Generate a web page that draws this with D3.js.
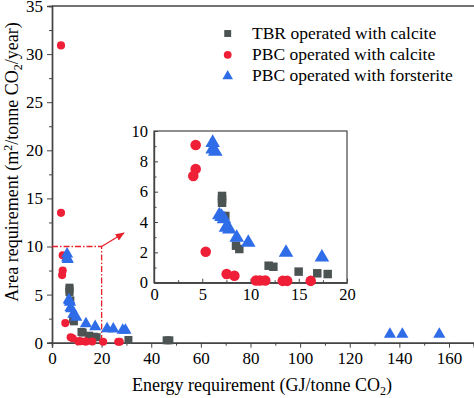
<!DOCTYPE html>
<html>
<head>
<meta charset="utf-8">
<script src="https://cdn.jsdelivr.net/npm/d3@7"></script>
<style>
body { margin: 0; background: #fff; }
</style>
</head>
<body>
<svg id="chart" width="474" height="398"></svg>
<script>
// TBR operated with calcite
var tbrCalcite = [[7.05,5.72],[7.05,5.5],[7.05,5.27],[7.39,4.4],[8.5,2.44],[8.84,2.22],[11.88,1.12],[12.37,1.05],[14.99,0.73],[16.92,0.62],[18.0,0.57],[30.8,0.28],[46.2,0.25],[47.3,0.25]];
// PBC operated with calcite
var pbcCalcite = [[3.63,30.9],[3.63,13.5],[4.32,9.08],[4.32,7.5],[4.07,7.03],[5.36,2.04],[7.53,0.57],[8.33,0.46],[10.57,0.15],[10.98,0.15],[11.53,0.15],[13.34,0.12],[13.8,0.12],[16.24,0.12],[20.6,0.1],[26.7,0.1],[27.3,0.1]];
// PBC operated with forsterite
var pbcForsterite = [[6.08,9.23],[6.08,8.8],[6.35,8.64],[6.77,4.46],[7.0,4.35],[7.25,4.2],[7.46,3.63],[7.8,3.52],[8.57,2.97],[9.77,2.64],[13.68,1.98],[17.4,1.67],[22.2,1.46],[24.7,1.42],[28.5,1.3],[29.6,1.3],[136.2,0.87],[141.2,0.87],[156.1,0.87]];

var seriesNames = ["TBR operated with calcite", "PBC operated with calcite", "PBC operated with forsterite"];
var xTicks = [0,20,40,60,80,100,120,140,160];
var yTicks = [0,5,10,15,20,25,30,35];
var insetXTicks = [0,5,10,15,20];
var insetYTicks = [0,2,4,6,8,10];

var colors = ["#4b5453", "#ee1f36", "#2f6ce8"];
var shapes = [d3.symbolSquare, d3.symbolCircle, d3.symbolTriangle];
var allSeries = [tbrCalcite, pbcCalcite, pbcForsterite];
var serif = "Liberation Serif";

var svg = d3.select("#chart");

var x = d3.scaleLinear().domain([0,170]).range([52, 473.8]);
var y = d3.scaleLinear().domain([0,35]).range([342.7, 6]);

function drawMarks(g, xs, ys, sizes, clip) {
	allSeries.forEach(function(data, i) {
		var pts = data;
		if (clip) {
			pts = data.filter(function(d){ return d[0] <= xs.domain()[1] && d[1] <= ys.domain()[1]; });
		}
		g.selectAll(".m"+i).data(pts).enter().append("path")
		.attr("class","m"+i)
		.attr("d", d3.symbol().type(shapes[i]).size(sizes[i]))
		.attr("fill", colors[i])
		.attr("transform", function(d){ return "translate("+xs(d[0])+","+ys(d[1])+")"; });
	});
}

// main axes
svg.append("g").attr("transform","translate(0,"+y(0)+")")
	.call(d3.axisBottom(x).tickValues(xTicks).tickSize(5).tickPadding(4).tickFormat(d3.format("d")));
svg.append("g").attr("transform","translate(0,"+y(0)+")")
	.call(d3.axisBottom(x).tickValues(d3.range(10,171,20)).tickSize(3).tickFormat(""));
svg.append("g").attr("transform","translate("+x(0)+",0)")
	.call(d3.axisLeft(y).tickValues(yTicks).tickSize(5).tickPadding(4));
svg.append("g").attr("transform","translate("+x(0)+",0)")
	.call(d3.axisLeft(y).tickValues(d3.range(2.5,35,5)).tickSize(3).tickFormat(""));
svg.selectAll(".domain").attr("stroke","#444").attr("stroke-width",1.4);
svg.selectAll(".tick line").attr("stroke","#444");
svg.selectAll(".tick text").style("font-size","17px");

svg.append("line")
	.attr("x1", x(0)).attr("x2", 474).attr("y1", y(35)).attr("y2", y(35))
	.attr("stroke","#444").attr("stroke-width",1.4);

// zoom guide lines
var red = "#e8202c";
svg.append("path")
	.attr("d", "M"+x(0)+","+y(10)+"H"+x(20)+"V"+y(0))
	.attr("fill","none").attr("stroke",red).attr("stroke-width",1.3)
	.attr("stroke-dasharray","6,2,1.5,2");
svg.append("defs").append("marker")
	.attr("id","arr").attr("viewBox","0 0 10 10").attr("refX",9).attr("refY",5)
	.attr("markerWidth",7).attr("markerHeight",7).attr("orient","auto")
	.append("path").attr("d","M0,1L10,5L0,9Z").attr("fill",red);
svg.append("line")
	.attr("x1", x(20)).attr("y1", y(10)).attr("x2", x(29)).attr("y2", y(11.4))
	.attr("stroke",red).attr("stroke-width",1.3).attr("marker-end","url(#arr)");

drawMarks(svg.append("g"), x, y, [64, 52, 64], false);

// inset
var ix = d3.scaleLinear().domain([0,20]).range([154, 347]);
var iy = d3.scaleLinear().domain([0,10]).range([282.7, 131]);
var inset = svg.append("g");
inset.append("rect")
	.attr("x", ix(0)).attr("y", iy(10)).attr("width", ix(20)-ix(0)).attr("height", iy(0)-iy(10))
	.attr("fill","#fff").attr("stroke","#444").attr("stroke-width",1.2);
inset.append("g").attr("transform","translate(0,"+iy(0)+")")
	.call(d3.axisBottom(ix).tickValues(insetXTicks).tickSizeInner(-4).tickSizeOuter(0).tickPadding(6).tickFormat(d3.format("d")));
inset.append("g").attr("transform","translate(0,"+iy(0)+")")
	.call(d3.axisBottom(ix).tickValues(d3.range(2.5,20,5)).tickSizeInner(-2.5).tickSizeOuter(0).tickFormat(""));
inset.append("g").attr("transform","translate("+ix(0)+",0)")
	.call(d3.axisLeft(iy).tickValues(insetYTicks).tickSizeInner(-4).tickSizeOuter(0).tickPadding(6));
inset.append("g").attr("transform","translate("+ix(0)+",0)")
	.call(d3.axisLeft(iy).tickValues(d3.range(1,10,2)).tickSizeInner(-2.5).tickSizeOuter(0).tickFormat(""));
inset.selectAll(".domain").attr("stroke","#444").attr("stroke-width",1.2);
inset.selectAll(".tick line").attr("stroke","#444");
inset.selectAll(".tick text").style("font-size","16.5px");

drawMarks(inset.append("g"), ix, iy, [72, 88, 92], true);

// legend
var legend = svg.append("g");
seriesNames.forEach(function(name, i) {
	var ly = 33.5 + i*21.3;
	legend.append("path")
		.attr("d", d3.symbol().type(shapes[i]).size(48))
		.attr("fill", colors[i])
		.attr("transform","translate(227.7,"+ly+")");
	legend.append("text")
		.attr("x", 252).attr("y", ly+5)
		.style("font-size","17.5px")
		.text(name);
});

// axis titles
var xt = svg.append("text")
	.attr("x", 262).attr("y", 391)
	.attr("text-anchor","middle").style("font-size","18px");
xt.append("tspan").text("Energy requirement (GJ/tonne CO");
xt.append("tspan").attr("dy",4).style("font-size","12px").text("2");
xt.append("tspan").attr("dy",-4).text(")");

var yt = svg.append("text")
	.attr("transform","translate(18,162) rotate(-90)")
	.attr("text-anchor","middle").style("font-size","18px");
yt.append("tspan").text("Area requirement (m");
yt.append("tspan").attr("dy",-6).style("font-size","12px").text("2");
yt.append("tspan").attr("dy",6).text("/tonne CO");
yt.append("tspan").attr("dy",4).style("font-size","12px").text("2");
yt.append("tspan").attr("dy",-4).text("/year)");

svg.selectAll("text").style("font-family", serif).attr("fill","#000");
svg.selectAll("g").attr("font-family", serif);
</script>
</body>
</html>
